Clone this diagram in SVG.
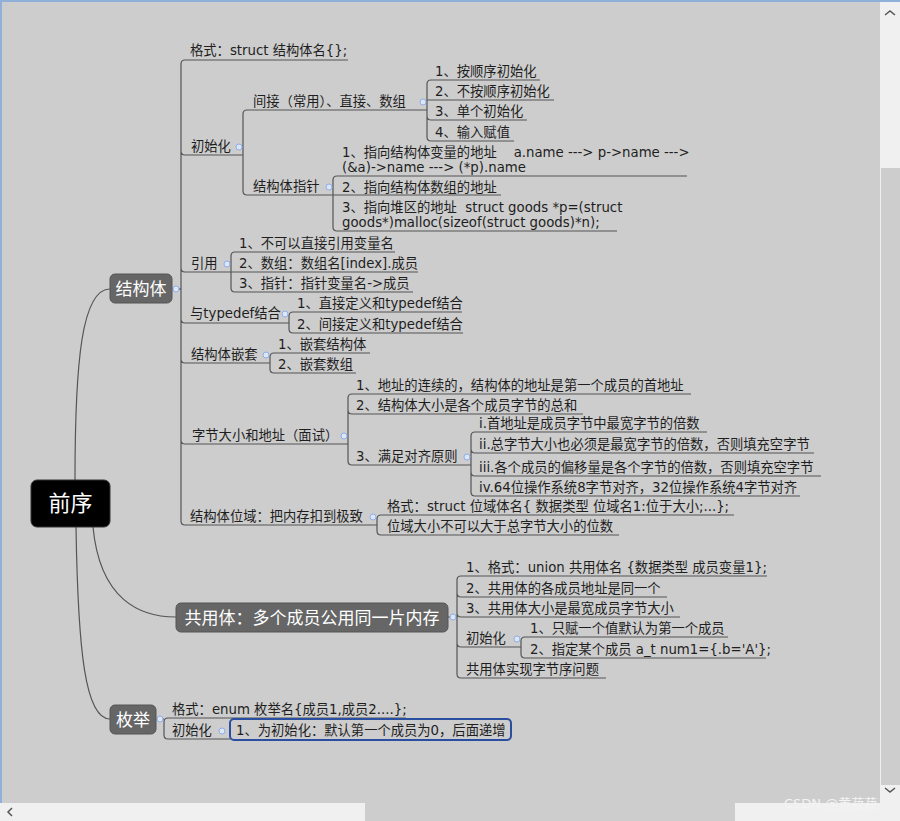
<svg xmlns="http://www.w3.org/2000/svg" width="900" height="821" viewBox="0 0 900 821">
<style>
text{font-family:"DejaVu Sans","Noto Sans CJK SC",sans-serif;font-size:13.3px;fill:#1e1e1e}
.w{fill:#fff;font-size:17px}
.c{fill:none;stroke:#555;stroke-width:1.2}
.k{fill:#dde6f7;stroke:#8eaee6;stroke-width:1}
</style>
<rect width="900" height="821" fill="#cdcdcd"/>
<rect width="900" height="2" fill="#8fb0d8"/>
<rect width="2" height="821" fill="#8fb0d8"/>
<rect x="880" y="2" width="20" height="801" fill="#f0f0f0"/>
<rect x="881" y="168" width="19" height="617" fill="#cdcdcd"/>
<path d="M885,15 l5,-4 l5,4" fill="none" stroke="#555" stroke-width="1.5"/>
<path d="M885,788 l5,4 l5,-4" fill="none" stroke="#555" stroke-width="1.5"/>
<rect x="0" y="803" width="900" height="18" fill="#f0f0f0"/>
<rect x="365" y="803" width="370" height="18" fill="#cdcdcd"/>
<path d="M12,808 l-4,4 l4,4" fill="none" stroke="#555" stroke-width="1.5"/>
<g id="connectors">
<path class="c" d="M75,480 C75,360 82,289 110,289"/>
<path class="c" d="M93,527 C100,600 140,617 176,617"/>
<path class="c" d="M76,527 C78,650 85,719 110,719"/>
<path class="c" d="M172,289 H181"/>
<path class="c" d="M181,64 Q181,60 185,60 H348 M181,64 V521 Q181,525 185,525 H377 M181,151 Q181,155 185,155 H243 M181,268 Q181,272 185,272 H231 M181,319 Q181,323 185,323 H289 M181,359 Q181,363 185,363 H270 M181,440 Q181,444 185,444 H348"/>
<path class="c" d="M243,114 Q243,110 247,110 H427 M243,114 V191 Q243,195 247,195 H333"/>
<path class="c" d="M427,84 Q427,80 431,80 H540 M427,84 V137 Q427,141 431,141 H514 M427,100 H554 M427,116 Q427,120 431,120 H527"/>
<path class="c" d="M333,180 Q333,176 337,176 H687 M333,180 V227 Q333,231 337,231 H617 M333,195 H501"/>
<path class="c" d="M231,256 Q231,252 235,252 H395 M231,256 V288 Q231,292 235,292 H413 M231,272 H418"/>
<path class="c" d="M289,316 Q289,312 293,312 H462 M289,316 V329 Q289,333 293,333 H463"/>
<path class="c" d="M270,357 Q270,353 274,353 H370 M270,357 V369 Q270,373 274,373 H356"/>
<path class="c" d="M348,398 Q348,394 352,394 H691 M348,398 V461 Q348,465 352,465 H471 M348,410 Q348,414 352,414 H583"/>
<path class="c" d="M471,436 Q471,432 475,432 H707 M471,436 V492 Q471,496 475,496 H800 M471,449 Q471,453 475,453 H814 M471,472 Q471,476 475,476 H821"/>
<path class="c" d="M377,519 Q377,515 381,515 H734 M377,519 V531 Q377,535 381,535 H619"/>
<path class="c" d="M448,617 H457 M457,580 Q457,576 461,576 H767 M457,580 V674 Q457,678 461,678 H606 M457,593 Q457,597 461,597 H667 M457,613 Q457,617 461,617 H680 M457,643 Q457,647 461,647 H521"/>
<path class="c" d="M521,641 Q521,637 525,637 H728 M521,641 V654 Q521,658 525,658 H766"/>
<path class="c" d="M156,719 H164 M164,722 Q164,718 168,718 H406 M164,722 V735 Q164,739 168,739 H230"/>
</g>
<g id="root"><rect x="31" y="480" width="79" height="47" rx="6" fill="#000" stroke="#333"/><text class="w" x="70.5" y="511" text-anchor="middle" style="font-size:22px">前序</text></g>
<g id="struct"><rect x="110" y="274" width="62" height="29" rx="5" fill="#666" stroke="#555"/><text class="w" x="141" y="295" text-anchor="middle">结构体</text><circle class="k" cx="176" cy="289" r="3"/></g>
<g id="union"><rect x="176" y="603" width="272" height="29" rx="5" fill="#666" stroke="#555"/><text class="w" x="312" y="624" text-anchor="middle">共用体：多个成员公用同一片内存</text><circle class="k" cx="453" cy="617" r="3"/></g>
<g id="enum"><rect x="110" y="705" width="46" height="29" rx="5" fill="#666" stroke="#555"/><text class="w" x="133" y="726" text-anchor="middle">枚举</text><circle class="k" cx="160" cy="719" r="3"/></g>
<g id="s-items">
<text x="190" y="55">格式：struct 结构体名{};</text>
<text x="191" y="151">初始化</text><circle class="k" cx="239" cy="147" r="3"/>
<text x="253" y="106">间接（常用）、直接、数组</text><circle class="k" cx="423" cy="102" r="3"/>
<text x="435" y="76">1、按顺序初始化</text>
<text x="435" y="96">2、不按顺序初始化</text>
<text x="435" y="116">3、单个初始化</text>
<text x="435" y="137">4、输入赋值</text>
<text x="253" y="191">结构体指针</text><circle class="k" cx="329" cy="187" r="3"/>
<text x="342" y="157" xml:space="preserve">1、指向结构体变量的地址    a.name ---&gt; p-&gt;name ---&gt;</text>
<text x="342" y="172">(&amp;a)-&gt;name ---&gt; (*p).name</text>
<text x="342" y="192">2、指向结构体数组的地址</text>
<text x="342" y="212" xml:space="preserve">3、指向堆区的地址  struct goods *p=(struct</text>
<text x="342" y="227">goods*)malloc(sizeof(struct goods)*n);</text>
<text x="191" y="268">引用</text><circle class="k" cx="227" cy="264" r="3"/>
<text x="239" y="248">1、不可以直接引用变量名</text>
<text x="239" y="268">2、数组：数组名[index].成员</text>
<text x="239" y="288">3、指针：指针变量名-&gt;成员</text>
<text x="190" y="318">与typedef结合</text><circle class="k" cx="285" cy="314" r="3"/>
<text x="297" y="308">1、直接定义和typedef结合</text>
<text x="297" y="329">2、间接定义和typedef结合</text>
<text x="191" y="359">结构体嵌套</text><circle class="k" cx="266" cy="355" r="3"/>
<text x="278" y="349">1、嵌套结构体</text>
<text x="278" y="369">2、嵌套数组</text>
<text x="192" y="440">字节大小和地址（面试）</text><circle class="k" cx="344" cy="436" r="3"/>
<text x="356" y="390">1、地址的连续的，结构体的地址是第一个成员的首地址</text>
<text x="356" y="410">2、结构体大小是各个成员字节的总和</text>
<text x="356" y="461">3、满足对齐原则</text><circle class="k" cx="467" cy="457" r="3"/>
<text x="479" y="428">i.首地址是成员字节中最宽字节的倍数</text>
<text x="479" y="449">ii.总字节大小也必须是最宽字节的倍数，否则填充空字节</text>
<text x="479" y="472">iii.各个成员的偏移量是各个字节的倍数，否则填充空字节</text>
<text x="479" y="492">iv.64位操作系统8字节对齐，32位操作系统4字节对齐</text>
<text x="190" y="521">结构体位域：把内存扣到极致</text><circle class="k" cx="373" cy="517" r="3"/>
<text x="387" y="511">格式：struct 位域体名{ 数据类型 位域名1:位于大小;...};</text>
<text x="387" y="531">位域大小不可以大于总字节大小的位数</text>
</g>
<g id="u-items">
<text x="466" y="572">1、格式：union 共用体名 {数据类型 成员变量1};</text>
<text x="466" y="593">2、共用体的各成员地址是同一个</text>
<text x="466" y="613">3、共用体大小是最宽成员字节大小</text>
<text x="466" y="643">初始化</text><circle class="k" cx="517" cy="639" r="3"/>
<text x="530" y="633">1、只赋一个值默认为第一个成员</text>
<text x="530" y="654">2、指定某个成员 a_t num1={.b='A'};</text>
<text x="466" y="674">共用体实现字节序问题</text>
</g>
<g id="e-items">
<text x="172" y="714">格式：enum 枚举名{成员1,成员2....};</text>
<text x="172" y="735">初始化</text><circle class="k" cx="222" cy="731" r="3"/>
<rect x="230" y="719" width="281" height="21" rx="4" fill="none" stroke="#2a4fa0" stroke-width="2"/>
<text x="236" y="735">1、为初始化：默认第一个成员为0，后面递增</text>
</g>
<text x="784" y="808" style="font-size:13px;fill:#f4f4f4">CSDN @黄菽菽</text>
</svg>
